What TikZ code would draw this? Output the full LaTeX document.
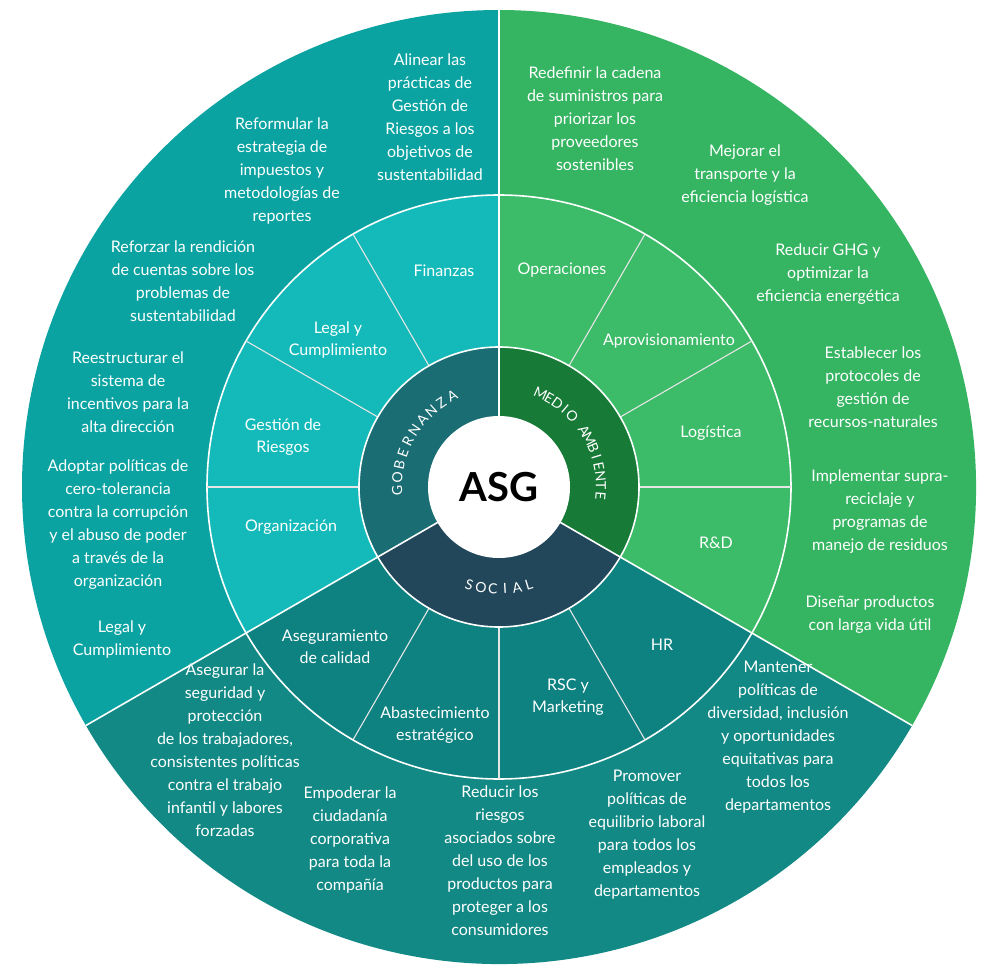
\documentclass[tikz,border=0pt]{standalone}
\usepackage{fontspec}
\setmainfont{Lato}
\usetikzlibrary{calc}
\definecolor{gobO}{HTML}{0AA3A2}
\definecolor{gobM}{HTML}{14BABA}
\definecolor{gobI}{HTML}{1B6D74}
\definecolor{envO}{HTML}{35B462}
\definecolor{envM}{HTML}{3CBB68}
\definecolor{envI}{HTML}{177B37}
\definecolor{socO}{HTML}{128985}
\definecolor{socM}{HTML}{0E8181}
\definecolor{socI}{HTML}{22475A}
\begin{document}
\begin{tikzpicture}[x=1pt,y=1pt,
  t/.style={align=center,text=white,inner sep=0pt,font=\fontsize{16}{23}\selectfont},
  m/.style={align=center,text=white,inner sep=0pt,font=\fontsize{16}{22}\selectfont},
  lt/.style={text=white,inner sep=0pt,font=\fontsize{14}{14}\selectfont},
  sep/.style={draw=white,line width=1.6pt},
  thin/.style={draw=white!80!gray,line width=1.1pt}]
\useasboundingbox (0,0) rectangle (997,-966);
\coordinate (C) at (499,-487);
% outer
\fill[gobO] (C) -- ++(90:477) arc[start angle=90,end angle=210,radius=477] -- cycle;
\fill[socO] (C) -- ++(210:477) arc[start angle=210,end angle=330,radius=477] -- cycle;
\fill[envO] (C) -- ++(330:477) arc[start angle=330,end angle=450,radius=477] -- cycle;
% middle
\fill[gobM] (C) -- ++(90:292) arc[start angle=90,end angle=210,radius=292] -- cycle;
\fill[socM] (C) -- ++(210:292) arc[start angle=210,end angle=330,radius=292] -- cycle;
\fill[envM] (C) -- ++(330:292) arc[start angle=330,end angle=450,radius=292] -- cycle;
\draw[sep] (C) circle[radius=292];
\foreach \a in {90,210,330} \draw[sep] (C) -- ++(\a:477);
\foreach \a in {0,30,60,120,150,180,240,270,300} \draw[thin] ($(C)+(\a:140)$) -- ($(C)+(\a:292)$);
% inner
\fill[gobI] (C) -- ++(90:140) arc[start angle=90,end angle=210,radius=140] -- cycle;
\fill[socI] (C) -- ++(210:140) arc[start angle=210,end angle=330,radius=140] -- cycle;
\fill[envI] (C) -- ++(330:140) arc[start angle=330,end angle=450,radius=140] -- cycle;
\foreach \a in {90,210,330} \draw[sep] (C) -- ++(\a:140);
\draw[sep] (C) circle[radius=140];
\fill[white] (C) circle[radius=71];
\node[font=\fontsize{40}{40}\selectfont\bfseries,text=black] (asg) at (C) {ASG};
% curved labels, letter by letter
\foreach \l [count=\i from 0] in {G,O,B,E,R,N,A,N,Z,A}
  \node[lt,rotate={182-7.2*\i-90}] (gl\i) at ($(C)+({182-7.2*\i}:102)$) {\l};
\foreach \l [count=\i from 0] in {M,E,D,I,O,{},A,M,B,I,E,N,T,E}
  \node[lt,rotate={66-5.45*\i-90}] (el\i) at ($(C)+({66-5.45*\i}:102)$) {\l};
\foreach \l [count=\i from 0] in {S,O,C,I,A,L}
  \node[lt,rotate={253+6.8*\i+90}] (sl\i) at ($(C)+({253+6.8*\i}:102)$) {\l};
% middle labels
\node[m] (fin) at (444,-271) {Finanzas};
\node[m] (leg) at (338,-340) {Legal y\\Cumplimiento};
\node[m] (ges) at (283,-437) {Gestión de\\Riesgos};
\node[m] (org) at (291,-527) {Organización};
\node[m] (ope) at (562,-270) {Operaciones};
\node[m] (apr) at (669,-341) {Aprovisionamiento};
\node[m] (log) at (711,-433) {Logística};
\node[m] (rd)  at (716,-543) {R\&D};
\node[m] (ase) at (335,-647) {Aseguramiento\\de calidad};
\node[m] (aba) at (435,-725) {Abastecimiento\\estratégico};
\node[m] (rsc) at (568,-697) {RSC y\\Marketing};
\node[m] (hr)  at (662,-645) {HR};
% outer labels
\node[t] (g1) at (430,-117) {Alinear las\\prácticas de\\Gestión de\\Riesgos a los\\objetivos de\\sustentabilidad};
\node[t] (g2) at (282,-171) {Reformular la\\estrategia de\\impuestos y\\metodologías de\\reportes};
\node[t] (g3) at (183,-281) {Reforzar la rendición\\de cuentas sobre los\\problemas de\\sustentabilidad};
\node[t] (g4) at (128,-392) {Reestructurar el\\sistema de\\incentivos para la\\alta dirección};
\node[t] (g5) at (118,-525) {Adoptar políticas de\\cero-tolerancia\\contra la corrupción\\y el abuso de poder\\a través de la\\organización};
\node[t] (g6) at (122,-639) {Legal y\\Cumplimiento};
\node[t] (e1) at (595,-119) {Redefinir la cadena\\de suministros para\\priorizar los\\proveedores\\sostenibles};
\node[t] (e2) at (745,-175) {Mejorar el\\transporte y la\\eficiencia logística};
\node[t] (e3) at (828,-274) {Reducir GHG y\\optimizar la\\eficiencia energética};
\node[t] (e4) at (873,-387) {Establecer los\\protocoles de\\gestión de\\recursos-naturales};
\node[t] (e5) at (880,-512) {Implementar supra-\\reciclaje y\\programas de\\manejo de residuos};
\node[t] (e6) at (870,-615) {Diseñar productos\\con larga vida útil};
\node[t] (s1) at (225,-750) {Asegurar la\\seguridad y\\protección\\de los trabajadores,\\consistentes políticas\\contra el trabajo\\infantil y labores\\forzadas};
\node[t] (s2) at (350,-840) {Empoderar la\\ciudadanía\\corporativa\\para toda la\\compañía};
\node[t] (s3) at (500,-861) {Reducir los\\riesgos\\asociados sobre\\del uso de los\\productos para\\proteger a los\\consumidores};
\node[t] (s4) at (647,-835) {Promover\\políticas de\\equilibrio laboral\\para todos los\\empleados y\\departamentos};
\node[t] (s5) at (778,-737) {Mantener\\políticas de\\diversidad, inclusión\\y oportunidades\\equitativas para\\todos los\\departamentos};
\end{tikzpicture}
\end{document}
